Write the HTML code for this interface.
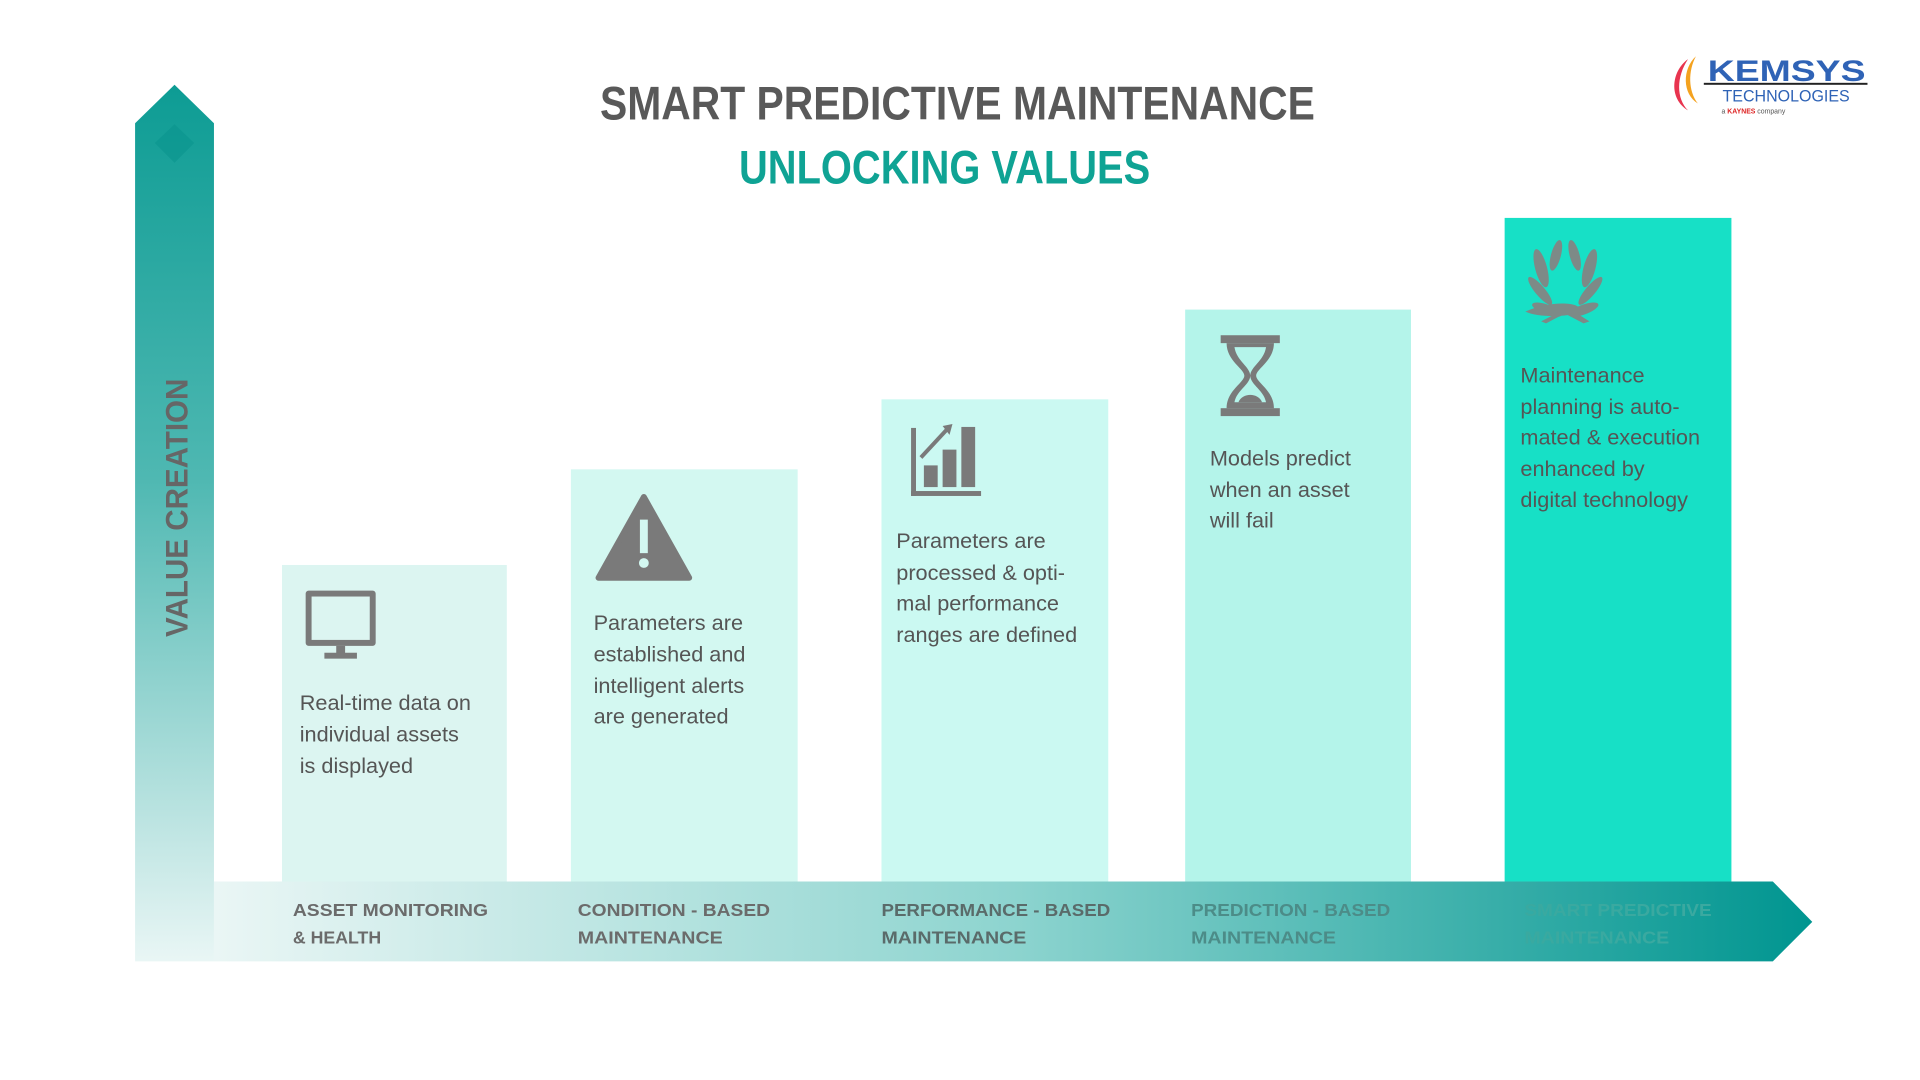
<!DOCTYPE html>
<html><head><meta charset="utf-8"><style>html,body{margin:0;padding:0;background:#fff;width:1920px;height:1080px;overflow:hidden}</style></head>
<body>
<svg width="1920" height="1080" viewBox="0 0 1920 1080" xmlns="http://www.w3.org/2000/svg" font-family="'Liberation Sans', sans-serif">
<defs>
<linearGradient id="gv" x1="0" y1="0" x2="0" y2="1">
<stop offset="0" stop-color="#0d9c94"/><stop offset="0.45" stop-color="#4fb8b2"/><stop offset="1" stop-color="#e9f6f5"/>
</linearGradient>
<linearGradient id="gh" x1="0" y1="0" x2="1" y2="0">
<stop offset="0" stop-color="#eaf6f5"/><stop offset="0.5" stop-color="#8dd4cf"/><stop offset="1" stop-color="#009590"/>
</linearGradient>
</defs>
<g transform="scale(0.986)">
<polygon points="137,125 177,86 217,125 217,975 137,975" fill="url(#gv)"/>
<polygon points="157,145 177,126 197,145 177,165" fill="#0a958d" opacity="0.6"/>
<text transform="translate(190,515) rotate(-90)" text-anchor="middle" font-size="32" font-weight="bold" fill="#666" textLength="262" lengthAdjust="spacingAndGlyphs">VALUE CREATION</text>
<polygon points="217,894 1798,894 1838,935 1798,975 217,975" fill="url(#gh)"/>
<text x="971" y="121" text-anchor="middle" font-size="48" font-weight="bold" fill="#595959" textLength="725" lengthAdjust="spacingAndGlyphs">SMART PREDICTIVE MAINTENANCE</text>
<text x="958" y="186" text-anchor="middle" font-size="48" font-weight="bold" fill="#0fa394" textLength="417" lengthAdjust="spacingAndGlyphs">UNLOCKING VALUES</text>
<g>
<path d="M1712,60 C1695,72 1692,100 1712,112 C1700,100 1700,78 1712,60Z" fill="#e8344f"/>
<path d="M1720,57 C1706,70 1706,95 1722,105 C1712,92 1712,72 1720,57Z" fill="#f4a21f"/>
<text x="1732" y="82" font-size="30" font-weight="bold" fill="#2f63b6" textLength="160" lengthAdjust="spacingAndGlyphs">KEMSYS</text>
<rect x="1728" y="84" width="166" height="2" fill="#222"/>
<text x="1747" y="103" font-size="17" fill="#2f63b6" textLength="129" lengthAdjust="spacingAndGlyphs">TECHNOLOGIES</text>
<text x="1746" y="115" font-size="7" fill="#555">a <tspan fill="#d22" font-weight="bold">KAYNES</tspan> company</text>
</g>
<rect x="286" y="573" width="228" height="321" fill="#dcf5f1"/>
<rect x="579" y="476" width="230" height="418" fill="#d3f8f1"/>
<rect x="894" y="405" width="230" height="489" fill="#cbf9f2"/>
<rect x="1202" y="314" width="229" height="580" fill="#b4f4ea"/>
<rect x="1526" y="221" width="230" height="673" fill="#17e0c6"/>
<g fill="#7a7a7a">
<rect x="310" y="599" width="71" height="56" rx="3"/><rect x="316" y="605" width="59" height="44" fill="#dcf5f1"/>
<rect x="341" y="655" width="9" height="8"/><rect x="329" y="662" width="33" height="6"/>
<polygon points="653,504 607,586 699,586" stroke="#7a7a7a" stroke-width="6" stroke-linejoin="round"/>
<rect x="649" y="527" width="8" height="34" fill="#d3f8f1"/><circle cx="653" cy="571" r="5" fill="#d3f8f1"/>
<rect x="924" y="434" width="5" height="69"/><rect x="924" y="498" width="71" height="5"/>
<rect x="937" y="472" width="14" height="22"/><rect x="956" y="456" width="14" height="38"/><rect x="975" y="433" width="14" height="61"/>
<path d="M934,464 L960,436" stroke="#7a7a7a" stroke-width="4"/><polygon points="956,432 966,430 963,441"/>
<rect x="1238" y="340" width="60" height="8"/><rect x="1238" y="414" width="60" height="8"/>
<path d="M1244,348 L1292,348 C1292,366 1274,374 1274,381 C1274,388 1292,396 1292,414 L1244,414 C1244,396 1262,388 1262,381 C1262,374 1244,366 1244,348Z"/>
<path d="M1252,352 L1284,352 C1282,366 1268,372 1268,381 C1268,390 1282,396 1284,408 L1252,408 C1254,396 1268,390 1268,381 C1268,372 1254,366 1252,352Z" fill="#b4f4ea"/>
<path d="M1256,408 C1260,398 1276,398 1280,408Z"/>
</g>
<g fill="#7d8a87">
<ellipse cx="1563" cy="272" rx="6" ry="20" transform="rotate(-15 1563 272)"/>
<ellipse cx="1562" cy="295" rx="5" ry="18" transform="rotate(-40 1562 295)"/>
<ellipse cx="1569" cy="314" rx="5" ry="16" transform="rotate(-70 1569 314)"/>
<ellipse cx="1578" cy="259" rx="5" ry="16" transform="rotate(15 1578 259)"/>
<ellipse cx="1612" cy="272" rx="6" ry="20" transform="rotate(15 1612 272)"/>
<ellipse cx="1613" cy="295" rx="5" ry="18" transform="rotate(40 1613 295)"/>
<ellipse cx="1606" cy="314" rx="5" ry="16" transform="rotate(70 1606 314)"/>
<ellipse cx="1597" cy="259" rx="5" ry="16" transform="rotate(-15 1597 259)"/>
<path d="M1547,316 C1570,305 1605,305 1603,316 C1590,322 1560,322 1547,316Z"/>
<path d="M1563,326 L1590,312 L1612,326 L1606,328 L1587,318 L1568,328Z"/>
</g>
<g font-size="22" fill="#555">
<text x="304" y="720">Real-time data on</text><text x="304" y="752">individual assets</text><text x="304" y="784">is displayed</text>
<text x="602" y="639">Parameters are</text><text x="602" y="671">established and</text><text x="602" y="703">intelligent alerts</text><text x="602" y="734">are generated</text>
<text x="909" y="556">Parameters are</text><text x="909" y="588">processed &amp; opti-</text><text x="909" y="619">mal performance</text><text x="909" y="651">ranges are defined</text>
<text x="1227" y="472">Models predict</text><text x="1227" y="504">when an asset</text><text x="1227" y="535">will fail</text>
<text x="1542" y="388">Maintenance</text><text x="1542" y="420">planning is auto-</text><text x="1542" y="451">mated &amp; execution</text><text x="1542" y="483">enhanced by</text><text x="1542" y="514">digital technology</text>
</g>
<g font-size="18" font-weight="bold" fill="#6b6b6b">
<text x="297" y="929" textLength="198" lengthAdjust="spacingAndGlyphs">ASSET MONITORING</text><text x="297" y="957">&amp; HEALTH</text>
<text x="586" y="929" textLength="195" lengthAdjust="spacingAndGlyphs">CONDITION - BASED</text><text x="586" y="957" textLength="147" lengthAdjust="spacingAndGlyphs">MAINTENANCE</text>
<text x="894" y="929" fill="#5a6b6a" textLength="232" lengthAdjust="spacingAndGlyphs">PERFORMANCE - BASED</text><text x="894" y="957" fill="#5a6b6a" textLength="147" lengthAdjust="spacingAndGlyphs">MAINTENANCE</text>
<text x="1208" y="929" fill="#4c8c88" textLength="202" lengthAdjust="spacingAndGlyphs">PREDICTION - BASED</text><text x="1208" y="957" fill="#4c8c88" textLength="147" lengthAdjust="spacingAndGlyphs">MAINTENANCE</text>
<text x="1546" y="929" fill="#3aa9a0" textLength="190" lengthAdjust="spacingAndGlyphs">SMART PREDICTIVE</text><text x="1546" y="957" fill="#3aa9a0" textLength="147" lengthAdjust="spacingAndGlyphs">MAINTENANCE</text>
</g>
</g>
</svg>
</body></html>
